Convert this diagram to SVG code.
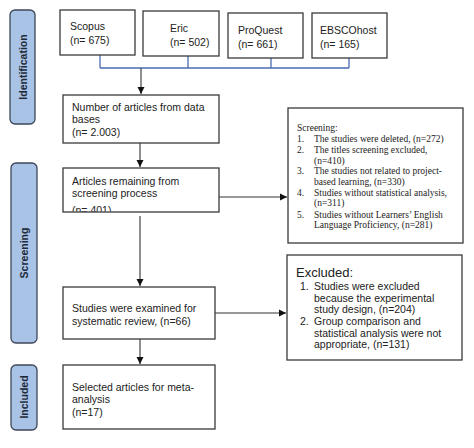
<svg xmlns="http://www.w3.org/2000/svg" width="474" height="448" viewBox="0 0 474 448">
<defs>
<style>
.box{fill:#fff;stroke:#3a3a3a;stroke-width:1.3}
.side{fill:#a9c3e6;stroke:#3c4858;stroke-width:1.3}
.t{font-family:"Liberation Sans",Arial,sans-serif;font-size:10.5px;fill:#222}
.s{font-family:"Liberation Serif","Times New Roman",serif;font-size:9.5px;fill:#222}
.lab{font-family:"Liberation Sans",Arial,sans-serif;font-size:10.5px;font-weight:bold;fill:#1e2a38}
.ar{stroke:#333;stroke-width:1.1;fill:none}
.bl{stroke:#4a6cb3;stroke-width:1.3;fill:none}
</style>
<marker id="ah" markerWidth="8" markerHeight="8" refX="7" refY="4" orient="auto" markerUnits="userSpaceOnUse">
<path d="M0,0.5 L7,4 L0,7.5 Z" fill="#111"/>
</marker>
<clipPath id="clip401"><rect x="63" y="168" width="156" height="43.5"/></clipPath>
</defs>
<rect width="474" height="448" fill="#fff"/>

<g id="side-identification">
<rect class="side" x="10" y="10" width="25" height="114" rx="5"/>
<text class="lab" transform="translate(26.5,67) rotate(-90)" text-anchor="middle">Identification</text>
</g>
<g id="side-screening">
<rect class="side" x="11" y="163" width="26" height="180" rx="5"/>
<text class="lab" transform="translate(28,253) rotate(-90)" text-anchor="middle">Screening</text>
</g>
<g id="side-included">
<rect class="side" x="11" y="365" width="26" height="65" rx="5"/>
<text class="lab" transform="translate(28,397) rotate(-90)" text-anchor="middle">Included</text>
</g>

<g id="connectors">
<path class="bl" d="M100,55 V68 M188,56 V68 M271,58 V68 M349,58 V68 M100,68 H349"/>
<path class="ar" d="M141,68 V94" marker-end="url(#ah)"/>
<path class="ar" d="M140,143 V167" marker-end="url(#ah)"/>
<path class="ar" d="M219,197 H287" marker-end="url(#ah)"/>
<path class="ar" d="M140,216 V286" marker-end="url(#ah)"/>
<path class="ar" d="M215,313 H286" marker-end="url(#ah)"/>
<path class="ar" d="M140,339 V364" marker-end="url(#ah)"/>
</g>

<g id="scopus">
<rect class="box" x="60" y="10" width="75" height="45"/>
<text class="t" x="70" y="30">Scopus</text>
<text class="t" x="70" y="44">(n= 675)</text>
</g>
<g id="eric">
<rect class="box" x="143" y="11" width="76" height="45"/>
<text class="t" x="170" y="32">Eric</text>
<text class="t" x="170" y="46">(n= 502)</text>
</g>
<g id="proquest">
<rect class="box" x="228" y="13" width="75" height="45"/>
<text class="t" x="238" y="34">ProQuest</text>
<text class="t" x="238" y="48">(n= 661)</text>
</g>
<g id="ebscohost">
<rect class="box" x="312" y="13" width="75" height="45"/>
<text class="t" x="320" y="34">EBSCOhost</text>
<text class="t" x="320" y="48">(n= 165)</text>
</g>

<g id="databases">
<rect class="box" x="63" y="95" width="156" height="48"/>
<text class="t" x="72" y="111">Number of articles from data</text>
<text class="t" x="72" y="123">bases</text>
<text class="t" x="72" y="136">(n= 2.003)</text>
</g>

<g id="remaining">
<rect class="box" x="63" y="168" width="156" height="44"/>
<text class="t" x="72" y="185">Articles remaining from</text>
<text class="t" x="72" y="197">screening process</text>
<text class="t" x="72" y="214" clip-path="url(#clip401)">(n= 401)</text>
</g>

<g id="screening">
<rect class="box" x="288" y="108" width="175" height="135"/>
<text class="s" x="297" y="131">Screening:</text>
<text class="s" x="297" y="142">1.</text><text class="s" x="314" y="142">The studies were deleted, (n=272)</text>
<text class="s" x="297" y="153">2.</text><text class="s" x="314" y="153">The titles screening excluded,</text>
<text class="s" x="314" y="164">(n=410)</text>
<text class="s" x="297" y="174">3.</text><text class="s" x="314" y="174">The studies not related to project-</text>
<text class="s" x="314" y="185">based learning, (n=330)</text>
<text class="s" x="297" y="196">4.</text><text class="s" x="314" y="196">Studies without statistical analysis,</text>
<text class="s" x="314" y="206">(n=311)</text>
<text class="s" x="297" y="218">5.</text><text class="s" x="314" y="218">Studies without Learners’ English</text>
<text class="s" x="314" y="228">Language Proficiency, (n=281)</text>
</g>

<g id="examined">
<rect class="box" x="63" y="287" width="152" height="52"/>
<text class="t" x="72" y="312">Studies were examined for</text>
<text class="t" x="72" y="325">systematic review, (n=66)</text>
</g>

<g id="excluded">
<rect class="box" x="287" y="255" width="175" height="105"/>
<text class="t" x="296" y="277" style="font-size:13px">Excluded:</text>
<text class="t" x="300" y="290">1.</text><text class="t" x="314" y="290">Studies were excluded</text>
<text class="t" x="314" y="302">because the experimental</text>
<text class="t" x="314" y="313">study design, (n=204)</text>
<text class="t" x="300" y="325">2.</text><text class="t" x="314" y="325">Group comparison and</text>
<text class="t" x="314" y="337">statistical analysis were not</text>
<text class="t" x="314" y="348">appropriate, (n=131)</text>
</g>

<g id="selected">
<rect class="box" x="63" y="365" width="152" height="64"/>
<text class="t" x="72" y="391">Selected articles for meta-</text>
<text class="t" x="72" y="403">analysis</text>
<text class="t" x="72" y="416">(n=17)</text>
</g>
</svg>
